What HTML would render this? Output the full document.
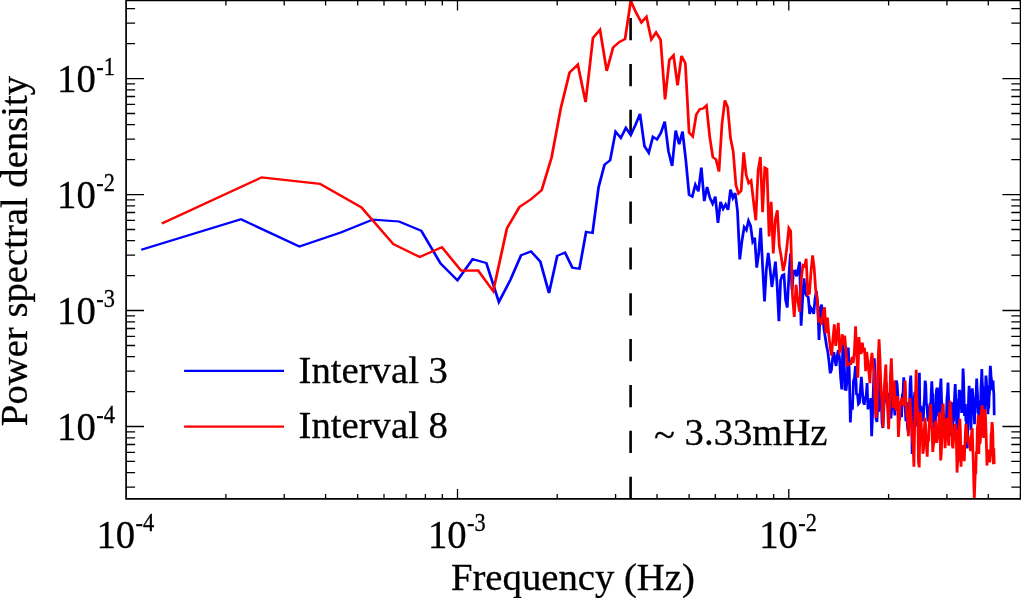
<!DOCTYPE html>
<html><head><meta charset="utf-8"><title>Power spectral density</title>
<style>html,body{margin:0;padding:0;background:#fff;overflow:hidden}body{width:1021px;height:598px;position:relative}</style></head>
<body>
<svg width="1021" height="598" viewBox="0 0 1021 598" style="display:block;position:absolute;left:0;top:0">
<rect width="1021" height="598" fill="#fff"/>
<line x1="630.6" y1="498.9" x2="630.6" y2="0" stroke="#000" stroke-width="2.6" stroke-dasharray="22.2 23.66"/>
<g transform="scale(1.25 1)" fill="none" stroke-width="2.2" stroke-linejoin="miter" stroke-miterlimit="4">
<path d="M113.01 249.8 L192.81 219.3 L239.49 246.5 L272.61 232.4 L298.30 219.6 L319.29 221.5 L337.04 230.7 L352.42 263.5 L365.98 280.4 L378.11 259.1 L389.08 263.0 L399.10 302.0 L408.31 279.8 L416.84 255.3 L424.79 251.4 L432.22 261.5 L439.20 293.1 L445.78 255.9 L452.00 252.5 L457.91 267.7 L463.53 268.8 L468.88 231.9 L474.00 233.0 L478.90 186.9 L483.60 164.7 L488.11 160.3 L492.46 131.6 L496.65 137.8 L500.69 127.8 L504.59 135.1 L508.36 124.8 L512.02 113.8 L515.56 146.1 L519.00 152.7 L522.34 136.7 L525.58 139.4 L528.73 132.8 L531.80 121.6 L534.79 151.4 L537.71 166.0 L540.55 130.5 L543.33 144.3 L546.04 131.6 L548.68 160.3 L551.27 194.9 L553.80 196.6 L556.28 184.8 L558.70 191.3 L561.07 167.5 L563.40 201.2 L565.68 187.0 L567.92 197.9 L570.11 203.7 L572.26 196.5 L574.37 222.9 L576.45 201.8 L578.49 208.8 L580.49 204.5 L582.46 210.0 L584.39 189.5 L586.29 198.0 L588.17 193.0 L590.01 211.2 L591.82 259.4 L593.61 240.5 L595.36 227.0 L597.10 230.0 L598.80 220.8 L600.48 225.8 L602.14 241.4 L603.77 237.6 L605.38 267.6 L606.97 253.5 L608.54 227.8 L610.08 266.0 L611.61 301.5 L613.11 268.8 L614.60 252.9 L616.06 268.8 L617.51 287.0 L618.94 274.7 L620.35 261.5 L621.75 286.4 L623.13 321.1 L624.49 280.5 L625.84 275.3 L627.17 274.4 L628.48 300.0 L629.79 307.6 L631.07 277.0 L632.34 253.5 L633.60 290.0 L634.85 271.0 L636.08 270.6 L637.30 276.4 L638.50 269.4 L639.70 261.7 L640.88 325.8 L642.05 300.0 L643.20 278.3 L644.35 293.0 L645.48 296.0 L646.61 297.0 L647.72 314.0 L648.82 308.0 L649.91 310.0 L650.99 314.0 L652.06 298.3 L653.12 291.0 L654.18 305.0 L655.22 340.0 L656.25 308.0 L657.27 304.5 L658.29 318.0 L659.29 330.0 L660.29 338.0 L661.28 346.0 L662.26 352.0 L663.23 362.0 L664.19 373.3 L665.15 370.0 L666.10 358.2 L667.04 352.0 L667.97 360.7 L668.89 366.0 L669.81 354.8 L670.72 350.0 L671.62 358.4 L672.52 377.9 L673.41 389.5 L674.29 344.7 L675.17 352.8 L676.03 389.5 L676.90 389.7 L677.75 379.5 L678.60 347.6 L679.45 372.2 L680.28 422.5 L681.11 400.8 L681.94 409.7 L682.76 381.0 L683.57 377.8 L684.38 366.0 L685.18 394.0 L685.98 394.4 L686.77 404.0 L687.56 402.8 L688.34 388.9 L689.11 376.7 L689.88 390.9 L690.65 401.8 L691.41 404.8 L692.16 397.7 L692.91 396.5 L693.66 383.1 L694.40 409.4 L695.13 404.9 L695.87 405.2 L696.59 398.0 L697.31 436.3 L698.03 414.7 L698.74 387.7 L699.45 358.4 L700.16 378.8 L700.86 418.5 L701.55 422.0 L702.24 402.2 L702.93 411.8 L703.61 386.0 L704.29 376.0 L704.97 397.3 L705.64 423.0 L706.31 428.0 L706.97 411.0 L707.63 395.0 L708.29 390.5 L708.94 382.0 L709.59 401.0 L710.23 407.1 L710.87 392.7 L711.51 396.1 L712.15 409.8 L712.78 418.4 L713.40 407.8 L714.03 394.7 L714.65 390.2 L715.27 403.4 L715.88 415.4 L716.49 393.3 L717.10 380.4 L717.70 384.4 L718.30 396.0 L718.90 416.2 L719.50 420.0 L720.09 415.8 L720.68 403.5 L721.26 417.1 L721.85 394.5 L722.43 393.4 L723.00 377.3 L723.58 395.2 L724.15 406.9 L724.72 421.2 L725.28 402.2 L725.85 424.6 L726.41 431.2 L726.96 427.2 L727.52 410.2 L728.07 383.7 L728.62 375.5 L729.17 397.2 L729.71 454.0 L730.25 448.4 L730.79 410.9 L731.33 398.5 L731.86 391.8 L732.40 409.4 L732.93 420.6 L733.45 409.6 L733.98 426.4 L734.50 398.8 L735.02 394.5 L735.54 372.7 L736.05 430.0 L736.56 405.8 L737.07 409.4 L737.58 420.7 L738.09 416.9 L738.59 421.3 L739.09 405.3 L739.59 398.8 L740.09 380.6 L740.59 385.1 L741.08 403.2 L741.57 406.1 L742.06 415.5 L742.55 421.3 L743.03 411.0 L743.51 419.2 L743.99 403.4 L744.47 407.4 L744.95 394.4 L745.42 381.2 L745.90 393.2 L746.37 394.6 L746.84 423.6 L747.30 414.0 L747.77 432.0 L748.23 427.0 L748.69 407.4 L749.15 390.6 L749.61 387.6 L750.07 399.7 L750.52 415.1 L750.97 416.0 L751.42 413.9 L751.87 389.7 L752.32 385.9 L752.77 378.6 L753.21 399.0 L753.65 409.4 L754.09 419.6 L754.53 430.3 L754.97 422.4 L755.40 427.1 L755.84 415.1 L756.27 426.9 L756.70 425.7 L757.13 419.8 L757.55 397.7 L757.98 393.3 L758.40 382.5 L758.83 396.6 L759.25 410.8 L759.67 430.1 L760.09 436.0 L760.50 426.1 L760.92 424.7 L761.33 402.2 L761.74 411.5 L762.15 431.0 L762.56 420.2 L762.97 420.2 L763.38 406.0 L763.78 393.3 L764.18 384.1 L764.58 398.8 L764.99 399.8 L765.38 426.7 L765.78 420.3 L766.18 431.0 L766.57 420.6 L766.97 404.5 L767.36 390.0 L767.75 390.9 L768.14 394.6 L768.53 409.1 L768.91 398.1 L769.30 412.9 L769.69 407.6 L770.07 389.6 L770.45 368.5 L770.83 378.0 L771.21 396.1 L771.59 416.1 L771.96 407.2 L772.34 403.9 L772.71 421.2 L773.09 420.3 L773.46 433.6 L773.83 448.4 L774.20 429.2 L774.57 412.6 L774.94 394.9 L775.30 385.7 L775.67 392.0 L776.03 411.3 L776.39 404.8 L776.76 430.3 L777.12 412.9 L777.47 406.5 L777.83 388.2 L778.19 394.3 L778.55 400.2 L778.90 414.0 L779.25 411.5 L779.61 424.2 L779.96 408.0 L780.31 407.1 L780.66 399.1 L781.01 389.8 L781.35 378.6 L781.70 388.8 L782.05 395.3 L782.39 413.2 L782.73 400.6 L783.07 424.0 L783.42 415.4 L783.76 423.8 L784.10 430.0 L784.43 410.1 L784.77 387.8 L785.11 380.9 L785.44 369.0 L785.78 381.6 L786.11 387.9 L786.44 386.8 L786.77 411.5 L787.10 411.1 L787.43 411.6 L787.76 411.5 L788.09 400.1 L788.42 389.8 L788.74 375.5 L789.07 379.2 L789.39 390.2 L789.71 385.4 L790.03 400.1 L790.36 414.2 L790.68 404.0 L791.00 408.7 L791.31 396.7 L791.63 392.5 L791.95 375.0 L792.26 365.9 L792.58 370.9 L792.89 377.5 L793.21 379.7 L793.52 390.2 L793.83 387.2 L794.14 383.2 L794.45 380.6 L794.76 389.5 L795.07 393.7 L795.38 415.3" stroke="#0000ff"/>
<path d="M129.49 223.5 L209.29 177.4 L255.97 183.9 L289.09 207.4 L314.78 244.3 L335.77 257.0 L353.52 247.2 L368.89 270.7 L382.45 270.4 L394.58 291.2 L405.55 228.3 L415.57 207.0 L424.79 199.3 L433.32 190.2 L441.26 157.5 L448.69 107.9 L455.67 72.6 L462.25 64.5 L468.48 102.1 L474.38 37.8 L480.00 29.8 L485.36 70.9 L490.47 47.5 L495.37 42.0 L500.07 39.0 L504.59 0.9 L508.93 12.8 L513.12 22.5 L517.16 16.8 L521.06 39.4 L524.84 32.5 L528.49 39.9 L532.04 99.5 L535.47 60.0 L538.81 55.3 L542.05 85.5 L545.21 55.9 L548.28 63.3 L551.27 132.6 L554.18 136.5 L557.03 114.5 L559.80 109.2 L562.51 108.5 L565.16 105.5 L567.75 136.6 L570.28 157.2 L572.75 159.4 L575.18 171.6 L577.55 124.5 L579.88 100.3 L582.16 107.3 L584.39 138.0 L586.58 151.6 L588.74 185.0 L590.85 193.5 L592.92 190.8 L594.96 152.3 L596.96 175.0 L598.93 183.0 L600.87 180.6 L602.77 201.1 L604.64 220.3 L606.48 170.6 L608.30 157.0 L610.08 212.3 L611.84 167.6 L613.57 168.8 L615.28 236.4 L616.96 201.8 L618.61 253.5 L620.25 219.4 L621.86 210.2 L623.44 245.8 L625.01 257.0 L626.56 271.0 L628.08 262.0 L629.59 246.0 L631.07 228.0 L632.54 231.0 L633.99 295.8 L635.42 317.0 L636.83 284.7 L638.23 300.0 L639.60 311.7 L640.97 280.0 L642.31 265.3 L643.64 266.4 L644.96 258.8 L646.26 294.5 L647.55 293.5 L648.82 271.1 L650.08 255.3 L651.32 267.6 L652.55 290.0 L653.77 299.3 L654.98 322.4 L656.17 318.0 L657.35 324.9 L658.52 312.0 L659.68 307.3 L660.82 333.2 L661.96 317.5 L663.08 335.0 L664.19 348.0 L665.29 355.7 L666.39 338.0 L667.47 324.4 L668.54 346.0 L669.60 335.0 L670.65 322.9 L671.69 352.0 L672.72 350.0 L673.75 334.2 L674.76 345.0 L675.77 335.7 L676.76 350.0 L677.75 366.4 L678.73 363.7 L679.70 363.6 L680.67 363.8 L681.62 357.0 L682.57 363.1 L683.51 351.8 L684.44 326.2 L685.37 353.5 L686.29 377.7 L687.20 337.1 L688.10 353.3 L688.99 353.1 L689.88 342.5 L690.77 352.2 L691.64 347.9 L692.51 371.3 L693.37 351.8 L694.23 361.4 L695.08 371.6 L695.92 383.1 L696.76 361.2 L697.59 352.9 L698.42 364.8 L699.23 372.2 L700.05 401.5 L700.86 418.0 L701.66 409.0 L702.46 361.5 L703.25 339.2 L704.03 359.7 L704.81 390.4 L705.59 400.4 L706.36 427.4 L707.12 395.9 L707.88 378.9 L708.64 364.6 L709.39 397.1 L710.13 409.5 L710.87 429.3 L711.61 408.7 L712.34 375.6 L713.07 358.4 L713.79 382.5 L714.51 407.8 L715.22 380.6 L715.93 396.2 L716.63 409.0 L717.33 409.8 L718.03 396.0 L718.72 436.9 L719.41 421.4 L720.09 402.6 L720.77 403.0 L721.44 397.7 L722.11 400.0 L722.78 406.2 L723.45 396.8 L724.11 380.6 L724.76 402.4 L725.41 415.0 L726.06 418.7 L726.71 436.2 L727.35 418.0 L727.99 398.0 L728.62 413.6 L729.25 423.1 L729.88 440.3 L730.50 445.8 L731.12 466.8 L731.74 427.1 L732.36 396.0 L732.97 369.8 L733.57 403.9 L734.18 411.8 L734.78 462.0 L735.38 467.5 L735.97 426.0 L736.56 412.4 L737.15 429.1 L737.74 433.1 L738.32 453.8 L738.90 448.6 L739.48 429.3 L740.05 417.5 L740.62 429.0 L741.19 446.2 L741.76 456.7 L742.32 437.6 L742.88 441.4 L743.44 421.6 L743.99 415.4 L744.55 404.1 L745.10 423.5 L745.64 428.7 L746.19 452.0 L746.73 444.9 L747.27 441.8 L747.81 429.9 L748.34 420.9 L748.87 428.8 L749.40 442.9 L749.93 438.6 L750.45 437.4 L750.97 422.7 L751.49 412.4 L752.01 428.0 L752.53 460.5 L753.04 453.7 L753.55 434.7 L754.06 409.4 L754.56 403.5 L755.07 418.5 L755.57 432.9 L756.07 448.2 L756.57 437.4 L757.06 430.1 L757.55 417.9 L758.05 427.5 L758.53 436.7 L759.02 445.8 L759.51 420.0 L759.99 400.9 L760.47 408.7 L760.95 419.6 L761.43 425.8 L761.90 445.7 L762.37 448.4 L762.84 439.1 L763.31 434.5 L763.78 427.5 L764.24 423.8 L764.71 432.0 L765.17 444.8 L765.63 472.6 L766.09 462.9 L766.54 460.4 L767.00 430.9 L767.45 427.7 L767.90 418.8 L768.35 432.2 L768.80 466.8 L769.24 455.5 L769.69 451.6 L770.13 445.2 L770.57 448.3 L771.01 457.3 L771.44 461.1 L771.88 446.2 L772.31 432.9 L772.74 423.8 L773.17 427.7 L773.60 433.6 L774.03 441.3 L774.46 435.9 L774.88 444.2 L775.30 438.7 L775.72 444.1 L776.14 449.2 L776.56 451.0 L776.98 435.9 L777.39 432.3 L777.81 428.0 L778.22 446.6 L778.63 461.9 L779.04 482.8 L779.44 498.9 L779.85 485.6 L780.25 471.1 L780.66 471.6 L781.06 451.4 L781.46 454.1 L781.86 427.8 L782.26 424.0 L782.65 415.0 L783.05 454.1 L783.44 436.4 L783.83 443.8 L784.23 441.7 L784.61 433.9 L785.00 414.1 L785.39 409.9 L785.78 405.4 L786.16 420.6 L786.54 433.4 L786.93 438.0 L787.31 433.3 L787.69 421.2 L788.06 409.2 L788.44 417.8 L788.82 430.9 L789.19 446.7 L789.56 465.6 L789.94 453.7 L790.31 449.6 L790.68 451.5 L791.04 455.1 L791.41 457.5 L791.78 462.4 L792.14 457.0 L792.51 454.3 L792.87 434.6 L793.23 431.9 L793.59 422.0 L793.95 425.6 L794.31 435.9 L794.66 464.3 L795.02 448.3 L795.38 464.0" stroke="#ff0000"/>
</g>
<path d="M126.1 0.5 H1020.6 V498.9 H126.1 Z" fill="none" stroke="#000" stroke-width="1.7"/>
<path d="M225.9 498.9v-5.0 M225.9 0.5v5.0 M284.2 498.9v-5.0 M284.2 0.5v5.0 M325.6 498.9v-5.0 M325.6 0.5v5.0 M357.7 498.9v-5.0 M357.7 0.5v5.0 M384.0 498.9v-5.0 M384.0 0.5v5.0 M406.1 498.9v-5.0 M406.1 0.5v5.0 M425.4 498.9v-5.0 M425.4 0.5v5.0 M442.3 498.9v-5.0 M442.3 0.5v5.0 M457.5 498.9v-9.9 M457.5 0.5v9.9 M557.2 498.9v-5.0 M557.2 0.5v5.0 M615.6 498.9v-5.0 M615.6 0.5v5.0 M657.0 498.9v-5.0 M657.0 0.5v5.0 M689.1 498.9v-5.0 M689.1 0.5v5.0 M715.3 498.9v-5.0 M715.3 0.5v5.0 M737.5 498.9v-5.0 M737.5 0.5v5.0 M756.7 498.9v-5.0 M756.7 0.5v5.0 M773.7 498.9v-5.0 M773.7 0.5v5.0 M788.8 498.9v-9.9 M788.8 0.5v9.9 M888.6 498.9v-5.0 M888.6 0.5v5.0 M946.9 498.9v-5.0 M946.9 0.5v5.0 M988.3 498.9v-5.0 M988.3 0.5v5.0 M1020.5 498.9v-5.0 M1020.5 0.5v5.0 M126.1 487.2h9.0 M1020.6 487.2h-9.3 M126.1 472.7h9.0 M1020.6 472.7h-9.3 M126.1 461.4h9.0 M1020.6 461.4h-9.3 M126.1 452.3h9.0 M1020.6 452.3h-9.3 M126.1 444.5h9.0 M1020.6 444.5h-9.3 M126.1 437.8h9.0 M1020.6 437.8h-9.3 M126.1 431.8h9.0 M1020.6 431.8h-9.3 M126.1 426.5h17.9 M1020.6 426.5h-18.2 M126.1 391.6h9.0 M1020.6 391.6h-9.3 M126.1 371.2h9.0 M1020.6 371.2h-9.3 M126.1 356.7h9.0 M1020.6 356.7h-9.3 M126.1 345.5h9.0 M1020.6 345.5h-9.3 M126.1 336.3h9.0 M1020.6 336.3h-9.3 M126.1 328.5h9.0 M1020.6 328.5h-9.3 M126.1 321.8h9.0 M1020.6 321.8h-9.3 M126.1 315.8h9.0 M1020.6 315.8h-9.3 M126.1 310.5h17.9 M1020.6 310.5h-18.2 M126.1 275.6h9.0 M1020.6 275.6h-9.3 M126.1 255.2h9.0 M1020.6 255.2h-9.3 M126.1 240.7h9.0 M1020.6 240.7h-9.3 M126.1 229.5h9.0 M1020.6 229.5h-9.3 M126.1 220.3h9.0 M1020.6 220.3h-9.3 M126.1 212.5h9.0 M1020.6 212.5h-9.3 M126.1 205.8h9.0 M1020.6 205.8h-9.3 M126.1 199.9h9.0 M1020.6 199.9h-9.3 M126.1 194.6h17.9 M1020.6 194.6h-18.2 M126.1 159.6h9.0 M1020.6 159.6h-9.3 M126.1 139.2h9.0 M1020.6 139.2h-9.3 M126.1 124.7h9.0 M1020.6 124.7h-9.3 M126.1 113.5h9.0 M1020.6 113.5h-9.3 M126.1 104.3h9.0 M1020.6 104.3h-9.3 M126.1 96.5h9.0 M1020.6 96.5h-9.3 M126.1 89.8h9.0 M1020.6 89.8h-9.3 M126.1 83.9h9.0 M1020.6 83.9h-9.3 M126.1 78.6h17.9 M1020.6 78.6h-18.2 M126.1 43.6h9.0 M1020.6 43.6h-9.3 M126.1 23.2h9.0 M1020.6 23.2h-9.3 M126.1 8.7h9.0 M1020.6 8.7h-9.3" fill="none" stroke="#000" stroke-width="1.3" stroke-linecap="butt"/>
<line x1="184.1" y1="370.8" x2="284" y2="370.8" stroke="#0000ff" stroke-width="2.3"/>
<line x1="184.1" y1="426.6" x2="284" y2="426.6" stroke="#ff0000" stroke-width="2.3"/>
<g font-family="Liberation Serif, Times New Roman, serif" fill="#000" stroke="#000" stroke-width="0.3" font-size="38.7">
<text x="298.6" y="382.6">Interval 3</text>
<text x="298.6" y="437.9">Interval 8</text>
<text x="654" y="444.7"><tspan dy="2.5">~</tspan><tspan dy="-2.5"> 3.33mHz</tspan></text>
<text x="572.9" y="589.7" text-anchor="middle">Frequency (Hz)</text>
<text transform="translate(27.2 251.0) rotate(-90)" text-anchor="middle">Power spectral density</text>
<g transform="translate(96.5 547.9)"><text transform="scale(1.0 1.05)">10</text><text transform="translate(39.1 -16.7) scale(0.96 1.07)" font-size="23.3">-4</text></g>
<g transform="translate(427.9 547.9)"><text transform="scale(1.0 1.05)">10</text><text transform="translate(39.1 -16.7) scale(0.96 1.07)" font-size="23.3">-3</text></g>
<g transform="translate(759.2 547.9)"><text transform="scale(1.0 1.05)">10</text><text transform="translate(39.1 -16.7) scale(0.96 1.07)" font-size="23.3">-2</text></g>
<g transform="translate(57.1 91.9)"><text transform="scale(1.0 1.05)">10</text><text transform="translate(39.1 -16.7) scale(0.96 1.07)" font-size="23.3">-1</text></g>
<g transform="translate(57.1 207.9)"><text transform="scale(1.0 1.05)">10</text><text transform="translate(39.1 -16.7) scale(0.96 1.07)" font-size="23.3">-2</text></g>
<g transform="translate(57.1 323.9)"><text transform="scale(1.0 1.05)">10</text><text transform="translate(39.1 -16.7) scale(0.96 1.07)" font-size="23.3">-3</text></g>
<g transform="translate(57.1 439.9)"><text transform="scale(1.0 1.05)">10</text><text transform="translate(39.1 -16.7) scale(0.96 1.07)" font-size="23.3">-4</text></g>
</g>
</svg>
</body></html>
